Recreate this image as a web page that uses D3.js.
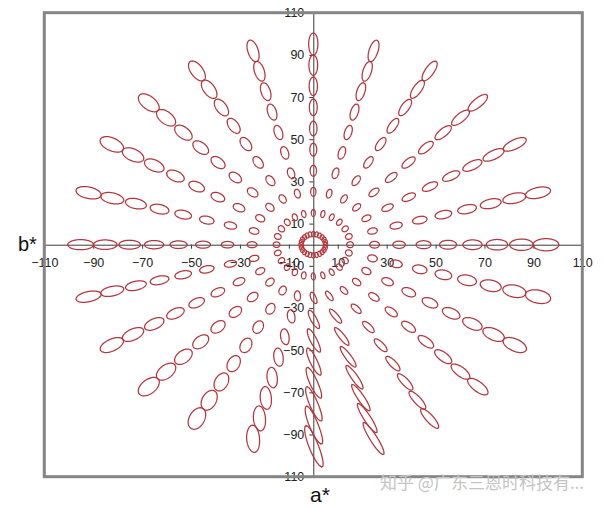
<!DOCTYPE html>
<html>
<head>
<meta charset="utf-8">
<script src="https://cdn.jsdelivr.net/npm/d3@7"></script>
<style>
  body { margin: 0; background: #fff; }
  svg { display: block; }
</style>
</head>
<body>
<div id="chart"></div>
<script>
// grid of colour centres (hue angle in degrees, chroma) on the a*b* plane
var hueAngles = [0, 15, 30, 45, 60, 75, 90, 105, 120, 135, 150, 165,
                 180, 195, 210, 225, 240, 255, 270, 285, 300, 315, 330, 345];
var chromaLevels = [5, 15, 25, 35, 45, 55, 65, 75, 85, 95];
var lightness = 50;
var deltaE = 1;   // each ellipse is the dE2000 = 1 contour round its centre

var xTicks = [-110, -90, -70, -50, -30, -10, 10, 30, 50, 70, 90, 110];
var yTicks = [110, 90, 70, 50, 30, 10, -10, -30, -50, -70, -90, -110];

var svgWidth = 604;
var svgHeight = 508;

var plot = { left: 44.3, right: 582.3, top: 12.7, bottom: 476.7 };

var svg = d3.select("#chart")
  .append("svg")
  .attr("width", svgWidth)
  .attr("height", svgHeight);

var x = d3.scaleLinear().domain([-110, 110]).range([plot.left, plot.right]);
var y = d3.scaleLinear().domain([-110, 110]).range([plot.bottom, plot.top]);

// CIEDE2000 colour difference
function de2000(L1, a1, b1, L2, a2, b2) {
  var rad = Math.PI / 180, deg = 180 / Math.PI;
  var p25 = Math.pow(25, 7);
  var C1 = Math.hypot(a1, b1), C2 = Math.hypot(a2, b2);
  var Cb7 = Math.pow((C1 + C2) / 2, 7);
  var G = 0.5 * (1 - Math.sqrt(Cb7 / (Cb7 + p25)));
  var a1p = (1 + G) * a1, a2p = (1 + G) * a2;
  var C1p = Math.hypot(a1p, b1), C2p = Math.hypot(a2p, b2);
  var h1p = (a1p === 0 && b1 === 0) ? 0 : Math.atan2(b1, a1p) * deg;
  var h2p = (a2p === 0 && b2 === 0) ? 0 : Math.atan2(b2, a2p) * deg;
  if (h1p < 0) h1p += 360;
  if (h2p < 0) h2p += 360;
  var dLp = L2 - L1, dCp = C2p - C1p, dhp = 0;
  if (C1p * C2p !== 0) {
    dhp = h2p - h1p;
    if (dhp > 180) dhp -= 360; else if (dhp < -180) dhp += 360;
  }
  var dHp = 2 * Math.sqrt(C1p * C2p) * Math.sin(dhp * rad / 2);
  var Lbp = (L1 + L2) / 2, Cbp = (C1p + C2p) / 2;
  var hbp = h1p + h2p;
  if (C1p * C2p !== 0) {
    if (Math.abs(h1p - h2p) > 180) {
      hbp = (h1p + h2p < 360) ? (h1p + h2p + 360) / 2 : (h1p + h2p - 360) / 2;
    } else {
      hbp = (h1p + h2p) / 2;
    }
  }
  var T = 1 - 0.17 * Math.cos((hbp - 30) * rad) + 0.24 * Math.cos(2 * hbp * rad)
        + 0.32 * Math.cos((3 * hbp + 6) * rad) - 0.20 * Math.cos((4 * hbp - 63) * rad);
  var dTheta = 30 * Math.exp(-Math.pow((hbp - 275) / 25, 2));
  var Cbp7 = Math.pow(Cbp, 7);
  var RC = 2 * Math.sqrt(Cbp7 / (Cbp7 + p25));
  var SL = 1 + 0.015 * Math.pow(Lbp - 50, 2) / Math.sqrt(20 + Math.pow(Lbp - 50, 2));
  var SC = 1 + 0.045 * Cbp;
  var SH = 1 + 0.015 * Cbp * T;
  var RT = -Math.sin(2 * dTheta * rad) * RC;
  var l = dLp / SL, c = dCp / SC, h = dHp / SH;
  return Math.sqrt(l * l + c * c + h * h + RT * c * h);
}

// walk out from the centre in each direction until dE reaches the threshold
function contour(a0, b0) {
  var pts = [];
  for (var k = 0; k < 90; k++) {
    var phi = k * 4 * Math.PI / 180;
    var ca = Math.cos(phi), sb = Math.sin(phi);
    var lo = 0, hi = 0.2;
    while (hi < 40 && de2000(lightness, a0, b0, lightness, a0 + hi * ca, b0 + hi * sb) < deltaE) {
      lo = hi; hi += 0.2;
    }
    for (var i = 0; i < 14; i++) {
      var mid = (lo + hi) / 2;
      if (de2000(lightness, a0, b0, lightness, a0 + mid * ca, b0 + mid * sb) < deltaE) lo = mid; else hi = mid;
    }
    var t = (lo + hi) / 2;
    pts.push([a0 + t * ca, b0 + t * sb]);
  }
  return pts;
}

var centres = [];
hueAngles.forEach(function(h) {
  chromaLevels.forEach(function(c) {
    centres.push({ a: c * Math.cos(h * Math.PI / 180), b: c * Math.sin(h * Math.PI / 180) });
  });
});

var path = d3.line()
  .x(function(d) { return x(d[0]); })
  .y(function(d) { return y(d[1]); })
  .curve(d3.curveLinearClosed);

// axes through the origin
var bottomAxis = d3.axisBottom(x).tickValues(xTicks).tickSizeInner(4).tickSizeOuter(0).tickPadding(9);
var leftAxis = d3.axisLeft(y).tickValues(yTicks).tickSizeInner(4).tickSizeOuter(0).tickPadding(5);

var gx = svg.append("g")
  .attr("transform", "translate(0," + y(0) + ")")
  .call(bottomAxis);

var gy = svg.append("g")
  .attr("transform", "translate(" + x(0) + ",0)")
  .call(leftAxis);

[gx, gy].forEach(function(g) {
  g.selectAll("path, line").attr("stroke", "#3a3a3a");
  g.selectAll("text")
    .attr("fill", "#222")
    .attr("font-family", "Liberation Sans, Arial, sans-serif")
    .attr("font-size", "12.5px");
});

// ellipses
svg.append("g")
  .selectAll("path")
  .data(centres)
  .enter()
  .append("path")
  .attr("d", function(d) { return path(contour(d.a, d.b)); })
  .attr("fill", "none")
  .attr("stroke", "#b3363d")
  .attr("stroke-width", 1.25);

// frame
svg.append("rect")
  .attr("x", plot.left)
  .attr("y", plot.top)
  .attr("width", plot.right - plot.left)
  .attr("height", plot.bottom - plot.top)
  .attr("fill", "none")
  .attr("stroke", "#858585")
  .attr("stroke-width", 3);

// axis names
svg.append("text")
  .attr("x", 18)
  .attr("y", 251)
  .attr("font-family", "Liberation Sans, Arial, sans-serif")
  .attr("font-size", "20px")
  .attr("fill", "#111")
  .text("b*");

svg.append("text")
  .attr("x", 310)
  .attr("y", 502)
  .attr("font-family", "Liberation Sans, Arial, sans-serif")
  .attr("font-size", "21px")
  .attr("fill", "#111")
  .text("a*");

// watermark
svg.append("text")
  .attr("x", 380)
  .attr("y", 489)
  .attr("font-family", "Noto Sans CJK SC, sans-serif")
  .attr("font-size", "17px")
  .attr("fill", "#c4c4c4")
  .text("知乎 @广东三恩时科技有...");
</script>
</body>
</html>
